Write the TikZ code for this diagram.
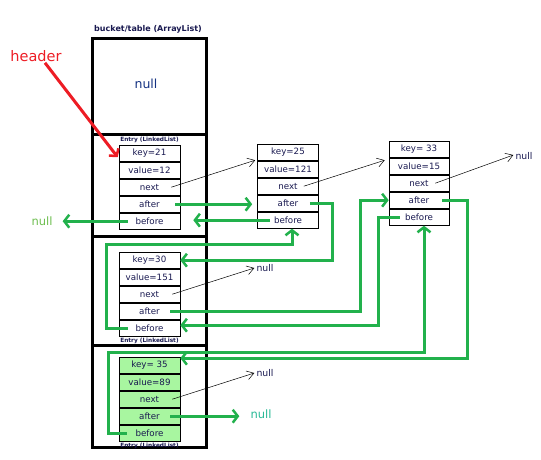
\documentclass[tikz,border=0pt]{standalone}
\usepackage{fontspec}
\setmainfont{DejaVu Sans}
\usetikzlibrary{arrows.meta,positioning,calc}
\definecolor{lgreen}{RGB}{34,177,76}
\definecolor{hred}{RGB}{237,28,36}
\definecolor{ink}{RGB}{25,25,80}
\definecolor{nblue}{RGB}{20,50,130}
\definecolor{efill}{RGB}{168,246,160}
\definecolor{nullgreen}{RGB}{110,190,80}
\definecolor{nullteal}{RGB}{40,185,150}
\tikzset{
  row/.style={draw, line width=0.6pt, minimum width=61pt, minimum height=16.4pt,
    inner sep=0pt, text=ink, font=\fontsize{8.7}{10}\selectfont},
  link/.style={draw=lgreen, line width=3pt, -{Straight Barb[length=5pt,width=13pt,line width=2.5pt]}},
  nxt/.style={draw, line width=0.5pt, -{Straight Barb[length=7pt,width=9pt,line width=0.5pt]}},
  tag/.style={text=ink, font=\bfseries\fontsize{5.8}{6}\selectfont, inner sep=0pt},
}
\begin{document}
\begin{tikzpicture}[x=1pt,y=-1pt]
    \useasboundingbox (0,0) rectangle (541,459);
    % bucket table
    \draw[line width=3pt] (92,38) rectangle (206,447)
    (92,134) -- (206,134) (92,236) -- (206,236) (92,345) -- (207,345);
    \node[font=\bfseries\fontsize{8}{9}\selectfont, text=ink] (title) at (148,29) {bucket/table (ArrayList)};
    \node[text=nblue, font=\fontsize{12.5}{14}\selectfont] (s1) at (146,84) {null};
    \node[text=hred, font=\fontsize{14.5}{16}\selectfont, inner sep=0pt] (hd) at (36,56) {header};

    % entries
    \node[row] (e1k) at (149.5,153.2) {key=21};
    \node[row, below=0pt of e1k] (e1v) {value=12};
    \node[row, below=0pt of e1v] (e1n) {next};
    \node[row, below=0pt of e1n] (e1a) {after};
    \node[row, below=0pt of e1a] (e1b) {before};

    \node[row] (e2k) at (288,152.2) {key=25};
    \node[row, below=0pt of e2k] (e2v) {value=121};
    \node[row, below=0pt of e2v] (e2n) {next};
    \node[row, below=0pt of e2n] (e2a) {after};
    \node[row, below=0pt of e2a] (e2b) {before};

    \node[row, minimum width=60pt] (e3k) at (419,149.2) {key= 33};
    \node[row, minimum width=60pt, below=0pt of e3k] (e3v) {value=15};
    \node[row, minimum width=60pt, below=0pt of e3v] (e3n) {next};
    \node[row, minimum width=60pt, below=0pt of e3n] (e3a) {after};
    \node[row, minimum width=60pt, below=0pt of e3a] (e3b) {before};

    \node[row] (e4k) at (149.5,260.2) {key=30};
    \node[row, below=0pt of e4k] (e4v) {value=151};
    \node[row, below=0pt of e4v] (e4n) {next};
    \node[row, below=0pt of e4n] (e4a) {after};
    \node[row, below=0pt of e4a] (e4b) {before};

    \node[row, fill=efill] (e5k) at (149.5,365.2) {key= 35};
    \node[row, fill=efill, below=0pt of e5k] (e5v) {value=89};
    \node[row, fill=efill, below=0pt of e5v] (e5n) {next};
    \node[row, fill=efill, below=0pt of e5n] (e5a) {after};
    \node[row, fill=efill, below=0pt of e5a] (e5b) {before};

    \node[tag, above=2pt of e1k] (t1) {Entry (LinkedList)};
    \node[tag, below=1.5pt of e4b] (t4) {Entry (LinkedList)};
    \node[tag, below=1pt of e5b] (t5) {Entry (LinkedList)};

    % null ends
    \node[text=nullgreen, font=\fontsize{11.5}{13}\selectfont, inner sep=1pt] (n0) at (42,221) {null};
    \node[font=\fontsize{9.3}{11}\selectfont, text=ink, inner sep=1pt] (n3) at (524,156) {null};
    \node[font=\fontsize{9.3}{11}\selectfont, text=ink, inner sep=1pt] (n4) at (265,268) {null};
    \node[font=\fontsize{9.3}{11}\selectfont, text=ink, inner sep=1pt] (n5) at (265,373) {null};
    \node[text=nullteal, font=\fontsize{11.5}{13}\selectfont, inner sep=1pt] (n6) at (261,414) {null};

    % next pointers
    \draw[nxt] ([xshift=-9pt]e1n.east) -- ([xshift=-2pt,yshift=-8pt]e2k.west);
    \draw[nxt] ([xshift=-15pt]e2n.east) -- ([xshift=-4pt,yshift=-11pt]e3k.west);
    \draw[nxt] ([xshift=-14pt]e3n.east) -- ([xshift=-1pt,yshift=1pt]n3.west);
    \draw[nxt] ([xshift=-8pt]e4n.east) -- ([xshift=-1pt]n4.west);
    \draw[nxt] ([xshift=-8pt]e5n.east) -- ([xshift=-1pt]n5.west);

    % after / before links
    \draw[link] ([xshift=-5pt]e1a.east) -- ([xshift=-5pt]e1a.east -| e2a.west);
    \draw[link] ([xshift=13pt]e2b.west) -- ([xshift=13pt]e2b.west -| e1b.east);
    \draw[link] ([xshift=9pt]e1b.west) -- ([xshift=9pt]e1b.west -| n0.east);
    \draw[link] ([xshift=-9pt]e2a.east) -- ++(23,0) |- (e4k.east);
    \draw[link] ([xshift=9pt]e4b.west) -| (106,244) -| ([xshift=4pt]e2b.south);
    \draw[link] ([xshift=-10pt]e4a.east) -| ([xshift=-28pt]e3a.west) -- (e3a.west);
    \draw[link] ([xshift=11pt]e3b.west) -- ++(-21,0) |- ([yshift=3pt]e4b.east);
    \draw[link] ([xshift=8pt]e5b.west) -| (108,352) -| ([xshift=5pt]e3b.south);
    \draw[link] ([xshift=-7pt]e3a.east) -- ++(25,0) |- ([yshift=7pt]e5k.east);
    \draw[link] ([xshift=-10pt]e5a.east) -- ([xshift=-10pt]e5a.east -| n6.west);

    % header pointer
    \draw[draw=hred, line width=3pt, -{Straight Barb[length=5pt,width=12pt,line width=2.5pt]}]
    ([xshift=9pt,yshift=-1pt]hd.south) -- ([xshift=-1pt,yshift=-4pt]e1k.west);
  \end{tikzpicture}
\end{document}
